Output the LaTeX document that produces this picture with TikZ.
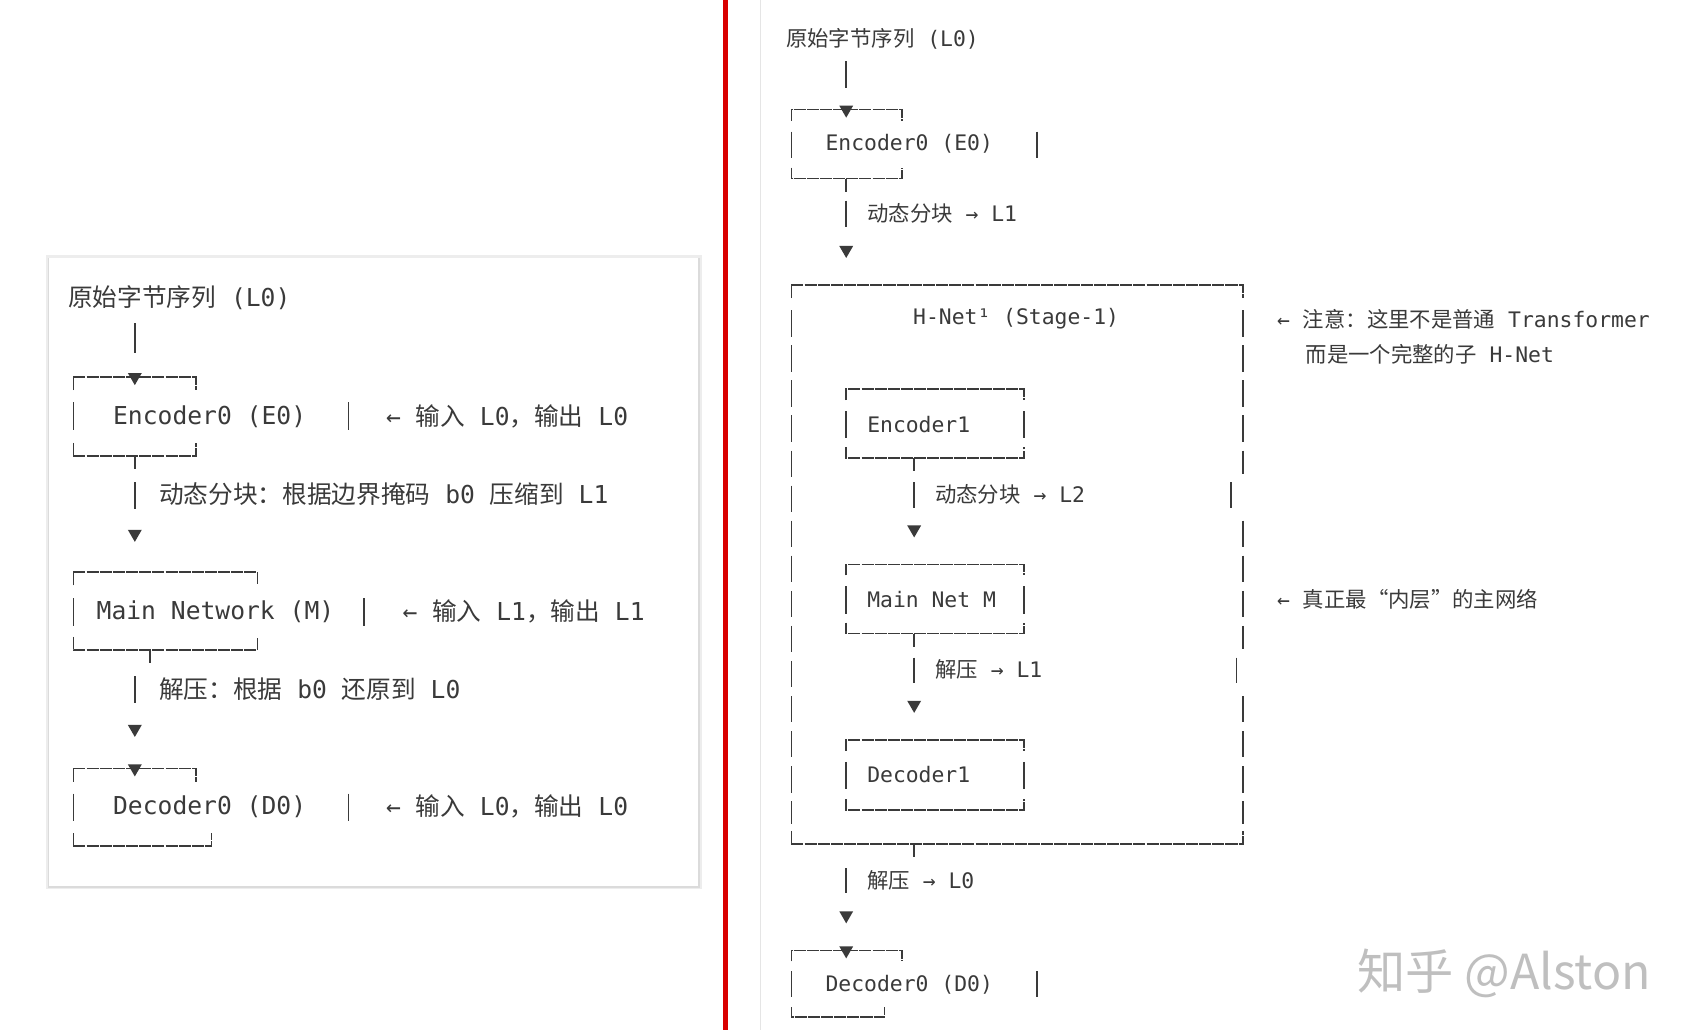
\documentclass[tikz,border=0pt]{standalone}
\usepackage{fontspec}
\setmainfont{DejaVu Sans Mono}
\newfontfamily\cjk{Noto Sans CJK SC}
\usetikzlibrary{shapes.geometric}
\definecolor{ink}{HTML}{3A3A3A}
\begin{document}
\begin{tikzpicture}[x=1pt,y=-1pt,
  ln/.style={draw=ink,line width=1.5pt},
  bx/.style={draw=ink,line width=1.5pt,dash pattern=on 11pt off 1pt},
  tl/.style={anchor=west,inner sep=0pt,text=ink,font=\fontsize{22.5}{22.5}\selectfont},
  tr/.style={anchor=west,inner sep=0pt,text=ink,font=\fontsize{19.5}{19.5}\selectfont},
  tri/.style={isosceles triangle,shape border rotate=-90,fill=ink,inner sep=0pt,minimum width=12pt,minimum height=11pt,isosceles triangle apex angle=60},
]
\useasboundingbox (0,0) rectangle (1550,940);
\fill[white] (0,0) rectangle (1550,940);
% panel
\fill[black!7] (42,233) rectangle (640,811);
\fill[black!14] (44,235) rectangle (639,810);
\fill[white] (45,235) rectangle (637,808);
% red & gray separators
\draw[red!85!black,line width=4pt] (662,0) -- (662,940);
\draw[black!10,line width=1pt] (694,0) -- (694,940);

% ===== LEFT =====
\node[tl] (l0) at (62,272) {{\cjk 原始字节序列} (L0)};
\coordinate (la) at (123,295); \coordinate (lb) at (123,322);
\draw[ln] (la) -- (lb);
\node[tri] (t1) at (123,344) {};
\draw[bx] (67,356) -- (67,344) -- (179,344) -- (179,356);
\draw[ln] (67,367) -- (67,392); \draw[ln] (318,367) -- (318,392);
\node[tl] (e0) at (103,380) {Encoder0 (E0)};
\node[tl] (e0n) at (352,380) {← {\cjk 输入} L0{\cjk ，输出} L0};
\draw[bx] (67,404) -- (67,416) -- (179,416) -- (179,404);
\coordinate (lc) at (123,416); \coordinate (ld) at (123,428);
\draw[ln] (lc) -- (ld);
\draw[ln] (123,440) -- (123,464);
\node[tl] (c1) at (145,451) {{\cjk 动态分块：根据边界掩码} b0 {\cjk 压缩到} L1};
\node[tri] (t2) at (123,487) {};
\draw[bx] (67,534) -- (67,522) -- (235,522) -- (235,534);
\draw[ln] (67,546) -- (67,571); \draw[ln] (332,546) -- (332,571);
\node[tl] (mn) at (88,558) {Main Network (M)};
\node[tl] (mnn) at (367,558) {← {\cjk 输入} L1{\cjk ，输出} L1};
\draw[bx] (67,581) -- (67,593) -- (235,593) -- (235,581);
\draw[ln] (137,593) -- (137,605);
\draw[ln] (123,617) -- (123,641);
\node[tl] (c2) at (145,629) {{\cjk 解压：根据} b0 {\cjk 还原到} L0};
\node[tri] (t3) at (123,665) {};
\node[tri] (t4) at (123,701) {};
\draw[bx] (67,713) -- (67,701) -- (179,701) -- (179,713);
\draw[ln] (67,724) -- (67,749); \draw[ln] (318,724) -- (318,749);
\node[tl] (d0) at (103,736) {Decoder0 (D0)};
\node[tl] (d0n) at (352,736) {← {\cjk 输入} L0{\cjk ，输出} L0};
\draw[bx] (67,760) -- (67,772) -- (193,772) -- (193,760);

% ===== RIGHT =====
\node[tr] (r0) at (717,35) {{\cjk 原始字节序列} (L0)};
\draw[ln] (772,56) -- (772,80);
\node[tri] (rt1) at (772,100) {};
\draw[bx] (722,110) -- (722,100) -- (823,100) -- (823,110);
\draw[ln] (722,120) -- (722,144); \draw[ln] (946,120) -- (946,144);
\node[tr] (re0) at (753,131) {Encoder0 (E0)};
\draw[bx] (722,153) -- (722,163) -- (823,163) -- (823,153);
\draw[ln] (772,163) -- (772,175);
\draw[ln] (772,183) -- (772,207);
\node[tr] (rc1) at (791,195) {{\cjk 动态分块} → L1};
\node[tri] (rt2) at (772,228) {};
% H-Net box
\draw[bx] (722,272) -- (722,260) -- (1134,260) -- (1134,272);
\draw[bx] (722,758) -- (722,770) -- (1134,770) -- (1134,758);
\draw[ln,dash pattern=on 24pt off 8pt,dash phase=-4pt] (722,279) -- (722,752);
\draw[ln,dash pattern=on 24pt off 8pt,dash phase=-4pt] (1134,279) -- (1134,432);
\draw[ln] (1123,440) -- (1123,463);
\draw[ln,dash pattern=on 24pt off 8pt,dash phase=-4pt] (1134,471) -- (1134,592);
\draw[ln] (1128,600) -- (1128,623);
\draw[ln,dash pattern=on 24pt off 8pt,dash phase=-4pt] (1134,631) -- (1134,752);
\node[tr,anchor=center] (hn) at (927,291) {H-Net¹ (Stage-1)};
\node[tr] (hnn1) at (1165,291) {← {\cjk 注意：这里不是普通} Transformer};
\node[tr] (hnn2) at (1191,323) {{\cjk 而是一个完整的子} H-Net};
% Encoder1
\draw[bx] (772,365) -- (772,355) -- (934,355) -- (934,365);
\draw[ln] (772,375) -- (772,400); \draw[ln] (934,375) -- (934,400);
\node[tr] (en1) at (791,387) {Encoder1};
\draw[bx] (772,408) -- (772,418) -- (934,418) -- (934,408);
\draw[ln] (834,418) -- (834,430);
\draw[ln] (834,440) -- (834,463);
\node[tr] (rc2) at (853,451) {{\cjk 动态分块} → L2};
\node[tri] (rt3) at (834,483) {};
% Main Net
\draw[bx] (772,525) -- (772,515) -- (934,515) -- (934,525);
\draw[ln] (772,535) -- (772,560); \draw[ln] (934,535) -- (934,560);
\node[tr] (mnet) at (791,547) {Main Net M};
\node[tr] (mnetn) at (1165,547) {← {\cjk 真正最“内层”的主网络}};
\draw[bx] (772,568) -- (772,578) -- (934,578) -- (934,568);
\draw[ln] (834,578) -- (834,590);
\draw[ln] (834,600) -- (834,623);
\node[tr] (rc3) at (853,611) {{\cjk 解压} → L1};
\node[tri] (rt4) at (834,643) {};
% Decoder1
\draw[bx] (772,685) -- (772,675) -- (934,675) -- (934,685);
\draw[ln] (772,695) -- (772,720); \draw[ln] (934,695) -- (934,720);
\node[tr] (de1) at (791,707) {Decoder1};
\draw[bx] (772,729) -- (772,739) -- (934,739) -- (934,729);
% below
\draw[ln] (834,770) -- (834,782);
\draw[ln] (772,792) -- (772,815);
\node[tr] (rc4) at (791,803) {{\cjk 解压} → L0};
\node[tri] (rt5) at (772,835) {};
\node[tri] (rt6) at (772,867) {};
\draw[bx] (722,877) -- (722,867) -- (823,867) -- (823,877);
\draw[ln] (722,886) -- (722,910); \draw[ln] (946,886) -- (946,910);
\node[tr] (rd0) at (753,898) {Decoder0 (D0)};
\draw[bx] (722,919) -- (722,928) -- (807,928) -- (807,919);
% watermark
\node[anchor=west,inner sep=0pt,text=black!25,font=\fontsize{44}{44}\selectfont\cjk] (wm) at (1238,888) {知乎 @Alston};
\end{tikzpicture}
\end{document}
